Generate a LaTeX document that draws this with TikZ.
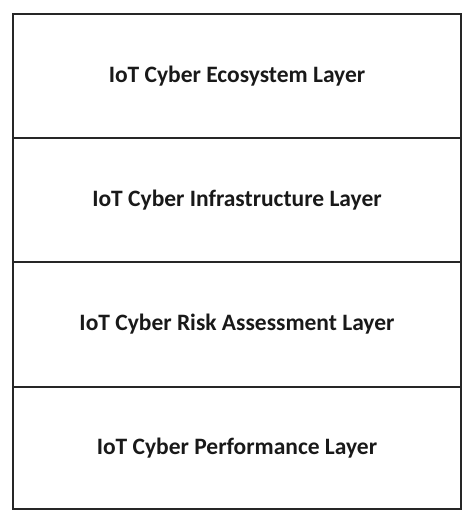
\documentclass[tikz,border=0pt]{standalone}
\usepackage{fontspec}
\setmainfont{Carlito}
\begin{document}
\begin{tikzpicture}[x=1pt,y=-1pt,
  layer/.style={font=\fontsize{23.5}{28}\selectfont\bfseries, text=black!90},
  frame/.style={draw=black!85, line width=2pt}]
\useasboundingbox (0,0) rectangle (474,523);
\draw[frame] (13,14) rectangle (461,509);
\draw[frame] (13,138) -- (461,138);
\draw[frame] (13,262) -- (461,262);
\draw[frame] (13,387) -- (461,387);
\node[layer] (l1) at (237,76) {IoT Cyber Ecosystem Layer};
\node[layer] (l2) at (237,200) {IoT Cyber Infrastructure Layer};
\node[layer] (l3) at (237,324.5) {IoT Cyber Risk Assessment Layer};
\node[layer] (l4) at (237,448) {IoT Cyber Performance Layer};
\end{tikzpicture}
\end{document}
